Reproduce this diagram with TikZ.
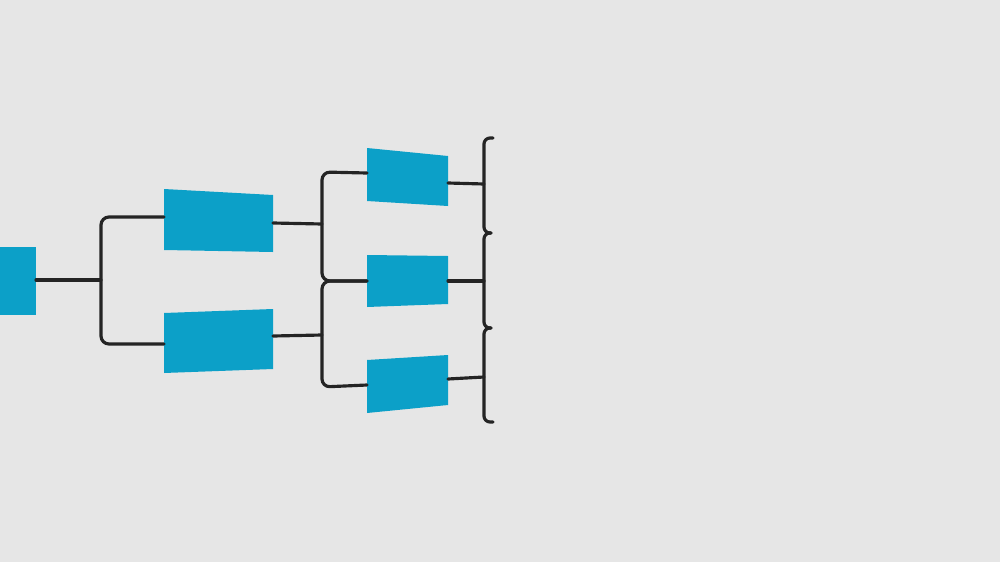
\documentclass[tikz,border=0pt]{standalone}
\definecolor{bgcol}{RGB}{230,230,230}
\definecolor{boxcol}{RGB}{12,160,200}
\definecolor{wirecol}{RGB}{36,36,36}
\begin{document}
\begin{tikzpicture}[x=0.1mm,y=-0.1mm,
  boxfill/.style={fill=boxcol},
  wire/.style={draw=wirecol,line width=0.9pt,line cap=round,line join=round},
  roundwire/.style={wire,rounded corners=0.8mm}]
\useasboundingbox (0,0) rectangle (1000,562);
\fill[bgcol] (0,0) rectangle (1000,562);
% boxes
\fill[boxfill] (0,247) -- (36,247) -- (36,315) -- (0,315) -- cycle;
\fill[boxfill] (164,189) -- (273,195) -- (273,252) -- (164,250) -- cycle;
\fill[boxfill] (164,313) -- (273,309) -- (273,369) -- (164,373) -- cycle;
\fill[boxfill] (367,148) -- (448,156) -- (448,206) -- (367,201) -- cycle;
\fill[boxfill] (367,255) -- (448,256) -- (448,304) -- (367,307) -- cycle;
\fill[boxfill] (367,360) -- (448,355) -- (448,405) -- (367,413) -- cycle;
% connector end points
\coordinate (a) at (36,280);
\coordinate (aj) at (101,280);
\coordinate (b1l) at (164,217);
\coordinate (b2l) at (164,344);
\coordinate (b1r) at (273,223);
\coordinate (b2r) at (273,336);
\coordinate (j1) at (322,224);
\coordinate (j2) at (322,335);
\coordinate (c1l) at (367,173);
\coordinate (c2l) at (367,281);
\coordinate (c3l) at (367,385);
\coordinate (c1r) at (448,183);
\coordinate (c2r) at (448,281);
\coordinate (c3r) at (448,379);
\coordinate (d1) at (484,184);
\coordinate (d2) at (484,281);
\coordinate (d3) at (484,377);
% first bracket
\draw[wire] (a) -- (aj);
\draw[roundwire] (b1l) -- (101,217) -- (101,344) -- (b2l);
% second bracket
\draw[wire] (b1r) -- (j1);
\draw[wire] (b2r) -- (j2);
\draw[roundwire] (c1l) -- (322,172) -- (322,281) -- (c2l);
\draw[roundwire] (c3l) -- (322,387) -- (322,281) -- (c2l);
% right lines
\draw[wire] (c1r) -- (d1);
\draw[wire] (c2r) -- (d2);
\draw[wire] (c3r) -- (d3);
% right brace
\draw[wire,rounded corners=0.6mm] (493,138) -- (484,138) -- (484,233) -- (491,233);
\draw[wire,rounded corners=0.6mm] (491,233) -- (484,233) -- (484,328) -- (491,328);
\draw[wire,rounded corners=0.6mm] (491,328) -- (484,328) -- (484,422) -- (493,422);
\end{tikzpicture}
\end{document}
